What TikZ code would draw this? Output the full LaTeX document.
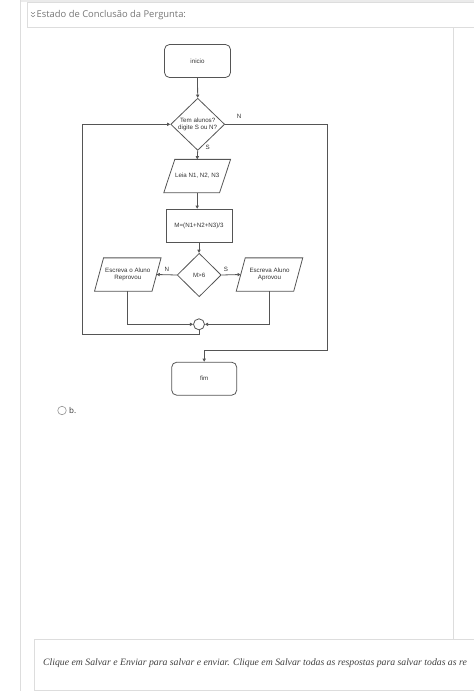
\documentclass[tikz,border=0pt]{standalone}
\usepackage{fontspec}
\setmainfont{Liberation Sans}
\newfontfamily\hdrfont{Open Sans}
\newfontfamily\serfont{Liberation Serif}
\usetikzlibrary{shapes.geometric,arrows.meta,calc}
\definecolor{flowline}{HTML}{555555}
\definecolor{flowtext}{HTML}{333333}
\definecolor{panel}{HTML}{DDDDDD}
\definecolor{hdrgray}{HTML}{777777}
\tikzset{
  fc/.style={draw=flowline, line width=0.8pt, text=flowtext, font=\fontsize{6.2}{7.4}\selectfont, align=center, inner sep=0pt},
  term/.style={fc, rounded corners=5pt, minimum width=66pt, minimum height=33pt},
  procbox/.style={fc, minimum width=66pt, minimum height=33pt},
  decis/.style={fc, diamond},
  iobox/.style={fc, draw=none, rectangle, minimum height=32.5pt},
  conn/.style={fc, circle, minimum size=11pt},
  arr/.style={draw=flowline, line width=0.8pt, -{Triangle[length=3.2pt,width=3.2pt]}},
  ln/.style={draw=flowline, line width=0.8pt},
  lbl/.style={text=flowtext, font=\fontsize{6.2}{7.4}\selectfont, inner sep=0pt},
  frame/.style={draw=panel, line width=0.7pt}
}
\newcommand{\slantbox}[2]{%
  \draw[ln, line join=miter] ($(#1.south west)+(-#2/2,0)$) -- ($(#1.south east)+(-#2/2,0)$) -- ($(#1.north east)+(#2/2,0)$) -- ($(#1.north west)+(#2/2,0)$) -- cycle;}
\begin{document}
\begin{tikzpicture}[x=1pt,y=-1pt]
\useasboundingbox (0,0) rectangle (474,691);
\clip (0,0) rectangle (474,691);
% page frame
\fill[panel!60] (20,0) rectangle (474,2);
\draw[frame] (20,0) -- (20,691);
\draw[frame] (453,27) -- (453,639);
\draw[frame, fill=white] (27,2) rectangle (480,27);
\draw[hdrgray, line width=0.5pt] (31,12.3) -- (33,13.8) -- (35,12.3);
\draw[hdrgray, line width=0.5pt] (31,15.3) -- (33,16.8) -- (35,15.3);
\node[anchor=west, text=hdrgray, font=\hdrfont\fontsize{9.4}{11}\selectfont, inner sep=0pt] (hdr) at (36.5,14.8) {Estado de Conclusão da Pergunta:};
% flowchart
\node[term] (ini) at (197.5,61) {inicio};
\node[decis, minimum width=54pt, minimum height=48pt] (d1) at (197.7,124.3) {Tem alunos?\\digite S ou N?};
\node[iobox, minimum width=55pt] (leia) at (197.2,176) {Leia N1, N2, N3};
\slantbox{leia}{11pt}
\node[procbox] (calc) at (199,225.7) {M=(N1+N2+N3)/3};
\node[decis, minimum width=44pt, minimum height=43.5pt] (d2) at (199.2,275) {M>6};
\node[iobox, minimum width=56.7pt] (rep) at (127.8,274.5) {Escreva o Aluno\\Reprovou};
\slantbox{rep}{9pt}
\node[iobox, minimum width=56.7pt] (apr) at (269.5,274.5) {Escreva Aluno\\Aprovou};
\slantbox{apr}{9pt}
\node[conn] (jn) at (199,324.3) {};
\node[term, minimum width=65pt] (fim) at (204.2,378.7) {fim};
\coordinate (r1) at (327.7,124.3);
\coordinate (r2) at (327.7,350.7);
\coordinate (l1) at (82.3,124.3);
\coordinate (l2) at (82.3,334.3);
\draw[arr] (ini.south) -- (d1.north);
\draw[arr] (d1.south) -- (leia.north);
\draw[arr] (leia.south) -- (leia.south |- calc.north);
\draw[arr] (calc.south) -- (calc.south |- d2.north);
\draw[arr] (d2.west) -- (rep.east);
\draw[arr] (d2.east) -- (apr.west);
\draw[arr] (rep.south) |- (jn.west);
\draw[arr] (apr.south) |- (jn.east);
\draw[arr] (jn.south) -- (jn.south |- l2) -- (l2) -- (l1) -- (d1.west);
\draw[arr] (d1.east) -- (r1) -- (r2) -- (fim.north |- r2) -- (fim.north);
\node[lbl] (n1) at (239,116) {N};
\node[lbl] (s1) at (207.8,147.8) {S};
\node[lbl] (n2) at (166.8,269.2) {N};
\node[lbl] (s2) at (226,269.2) {S};
% radio option
\node[circle, draw=hdrgray!80, line width=0.6pt, minimum size=8.5pt, inner sep=0pt] (radio) at (62,410.5) {};
\node[anchor=west, text=black!80, font=\hdrfont\fontsize{8}{9}\selectfont, inner sep=0pt] (optb) at (69,410.5) {b.};
% bottom box
\draw[frame, fill=white] (34,639) rectangle (480,690);
\node[anchor=west, text=black!75, font=\serfont\itshape\fontsize{9.75}{12}\selectfont, inner sep=0pt] (foot) at (43,663.5) {Clique em Salvar e Enviar para salvar e enviar. Clique em Salvar todas as respostas para salvar todas as re};
\end{tikzpicture}
\end{document}
